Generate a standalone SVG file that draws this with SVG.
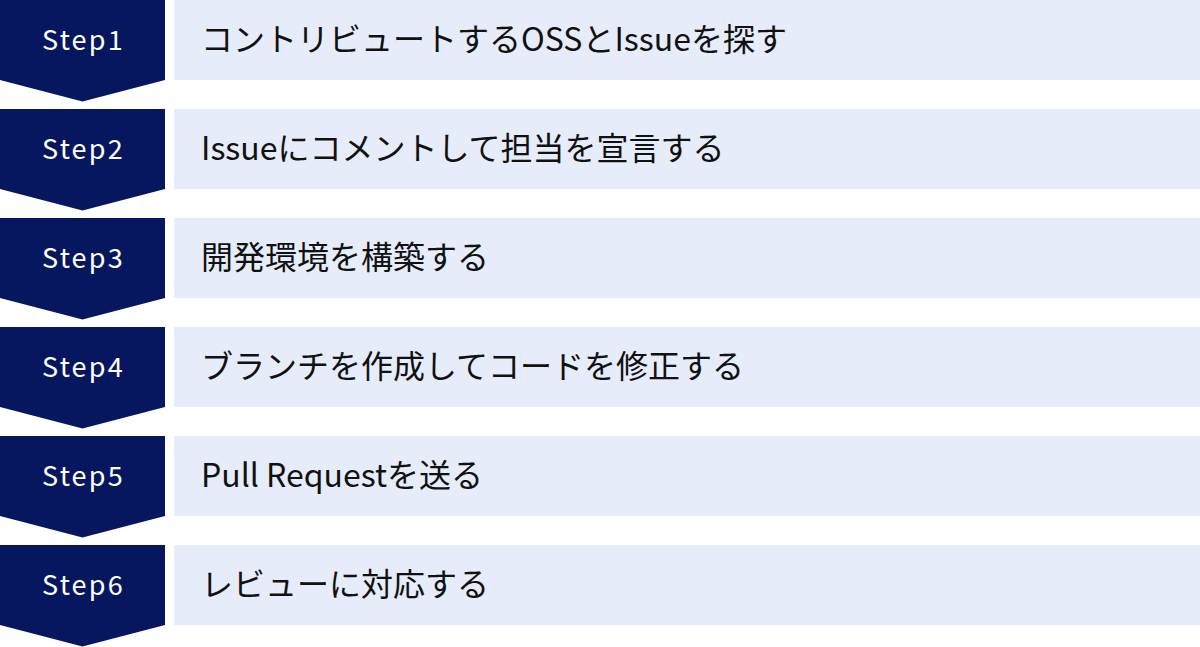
<svg xmlns="http://www.w3.org/2000/svg" width="1200" height="647" viewBox="0 0 1200 647">
<style>
.chev{fill:#06175f}
.bar{fill:#e6ecf9}
.step{font-family:"Noto Sans CJK JP","Noto Sans",sans-serif;font-size:27px;fill:#ffffff;letter-spacing:2.2px;text-anchor:middle}
.lbl{font-family:"Noto Sans CJK JP","Noto Sans",sans-serif;font-size:32px;fill:#111111}
</style>
<defs>
<path id="chevShape" d="M0,0 H165 V80 L82.5,101.5 L0,80 Z"/>
</defs>
<g id="connectors"></g>
<g id="step1" transform="translate(0,0)">
<use href="#chevShape" class="chev"/>
<rect class="bar" x="174" y="0" width="1026" height="80"/>
<text class="step" x="83.5" y="50">Step1</text>
<text class="lbl" x="201" y="51">コントリビュートするOSSとIssueを探す</text>
</g>
<g id="step2" transform="translate(0,109)">
<use href="#chevShape" class="chev"/>
<rect class="bar" x="174" y="0" width="1026" height="80"/>
<text class="step" x="83.5" y="50">Step2</text>
<text class="lbl" x="201" y="51">Issueにコメントして担当を宣言する</text>
</g>
<g id="step3" transform="translate(0,218)">
<use href="#chevShape" class="chev"/>
<rect class="bar" x="174" y="0" width="1026" height="80"/>
<text class="step" x="83.5" y="50">Step3</text>
<text class="lbl" x="201" y="51">開発環境を構築する</text>
</g>
<g id="step4" transform="translate(0,327)">
<use href="#chevShape" class="chev"/>
<rect class="bar" x="174" y="0" width="1026" height="80"/>
<text class="step" x="83.5" y="50">Step4</text>
<text class="lbl" x="201" y="51">ブランチを作成してコードを修正する</text>
</g>
<g id="step5" transform="translate(0,436)">
<use href="#chevShape" class="chev"/>
<rect class="bar" x="174" y="0" width="1026" height="80"/>
<text class="step" x="83.5" y="50">Step5</text>
<text class="lbl" x="201" y="51">Pull Requestを送る</text>
</g>
<g id="step6" transform="translate(0,545)">
<use href="#chevShape" class="chev"/>
<rect class="bar" x="174" y="0" width="1026" height="80"/>
<text class="step" x="83.5" y="50">Step6</text>
<text class="lbl" x="201" y="51">レビューに対応する</text>
</g>
</svg>
